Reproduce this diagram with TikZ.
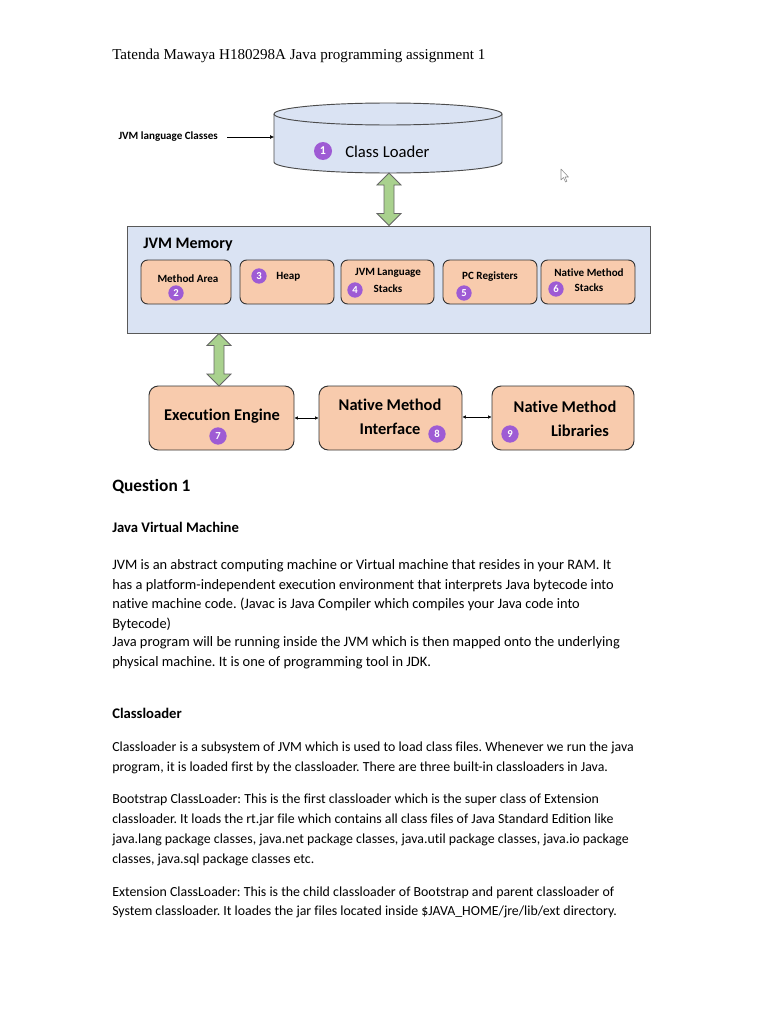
\documentclass[tikz,border=0pt]{standalone}
\usepackage{fontspec}
\setmainfont{Carlito}[Ligatures=NoCommon]
\newfontfamily\headfont{Liberation Serif}
\usepackage{tikz}
\usetikzlibrary{arrows.meta}
\usetikzlibrary{fit}
\usetikzlibrary{calc}

\definecolor{memblue}{HTML}{DAE3F3}
\definecolor{slotpeach}{HTML}{F8CBAD}
\definecolor{arrowgreen}{HTML}{A9D18E}
\definecolor{numpurple}{HTML}{9E5BD4}

\tikzset{
  membox/.style={draw=black!65, fill=memblue, line width=0.7pt, inner sep=0pt},
  slot/.style={draw=black!80, fill=slotpeach, rounded corners=5pt, line width=0.7pt, inner sep=0pt},
  numdot/.style={circle, fill=numpurple, text=white, inner sep=0pt, minimum size=11.5pt, font=\bfseries\fontsize{8}{8}\selectfont},
  slotlabel/.style={font=\bfseries\fontsize{8.3}{9}\selectfont, inner sep=0pt},
  biglabel/.style={font=\bfseries\fontsize{12.3}{14}\selectfont, inner sep=0pt},
  fatarrow/.style={draw=black!60, fill=arrowgreen, line width=0.6pt, line join=miter},
  thinarrow/.style={{Latex[length=2.5pt,width=2.5pt]}-{Latex[length=2.5pt,width=2.5pt]}, line width=0.4pt},
  bodyline/.style={anchor=base west, inner sep=0pt, font=\fontsize{10.8}{13}\selectfont},
  smallline/.style={anchor=base west, inner sep=0pt, font=\fontsize{10.4}{13}\selectfont},
  heading/.style={anchor=base west, inner sep=0pt, font=\bfseries\fontsize{11}{13}\selectfont}
}

% green double arrow from #1 (top) to #2 (bottom)
\newcommand{\greenarrow}[2]{%
  \draw[fatarrow] let \p1=(#1), \p2=(#2) in
    (\x1,\y1) -- (\x1+9pt,\y1-9pt) -- (\x1+3.75pt,\y1-9pt) -- (\x1+3.75pt,\y2+9pt)
    -- (\x1+9pt,\y2+9pt) -- (\x1,\y2) -- (\x1-9pt,\y2+9pt) -- (\x1-3.75pt,\y2+9pt)
    -- (\x1-3.75pt,\y1-9pt) -- (\x1-9pt,\y1-9pt) -- cycle;}

\frenchspacing
\begin{document}
\begin{tikzpicture}[x=0.75pt, y=-0.75pt]
    \useasboundingbox[fill=white] (0,0) rectangle (768,1024);

    % page header
    \node[anchor=base west, inner sep=0pt, font=\headfont\fontsize{11.3}{14}\selectfont] (header) at (112,60) {Tatenda Mawaya H180298A Java programming assignment 1};

    % class loader cylinder
    \draw[draw=black!70, fill=memblue, line width=0.7pt]
        (274,114) -- (274,162) arc[start angle=180, end angle=0, x radius=114, y radius=11]
        -- (502,114) arc[start angle=0, end angle=-180, x radius=114, y radius=11] -- cycle;
    \draw[draw=black!70, line width=0.7pt] (274,114) arc[start angle=180, end angle=0, x radius=114, y radius=11];
    \coordinate (loaderleft) at (274,137);
    \coordinate (loaderbot) at (389,173);
    \node[numdot, minimum size=13.5pt, font=\bfseries\fontsize{9}{9}\selectfont] (num1) at (323,151) {1};
    \node[anchor=west, inner sep=0pt, font=\fontsize{12.5}{14}\selectfont] (loader) at (345,152) {Class Loader};

    \node[anchor=east, inner sep=0pt, font=\bfseries\fontsize{8.3}{9}\selectfont] (langcls) at (218,137) {JVM language Classes};
    \draw[-{Latex[length=3pt,width=3pt]}, line width=0.4pt, shorten <=7pt] (langcls.east) -- (loaderleft);

    % jvm memory
    \node[membox, fit={(127,226) (650,333)}] (memory) {};
    \node[anchor=west, inner sep=0pt, font=\bfseries\fontsize{12}{14}\selectfont] (memtitle) at (143,245) {JVM Memory};

    \node[slot, fit={(141,260) (231,304)}] (area) {};
    \node[slotlabel] (arealbl) at (188,279) {Method Area};
    \node[numdot] (num2) at (176,293) {2};

    \node[slot, fit={(240,260) (334,304)}] (heap) {};
    \node[numdot] (num3) at (259,276) {3};
    \node[slotlabel, anchor=west] (heaplbl) at (276,277) {Heap};

    \node[slot, fit={(341,260) (434,304)}] (stacks) {};
    \node[slotlabel] (stackslbl) at (388,273) {JVM Language};
    \node[numdot] (num4) at (355,290) {4};
    \node[slotlabel] (stackslbl2) at (388,289) {Stacks};

    \node[slot, fit={(443,260) (537,304)}] (pcreg) {};
    \node[slotlabel] (pcreglbl) at (490,277) {PC Registers};
    \node[numdot] (num5) at (464,293) {5};

    \node[slot, fit={(541,260) (635,304)}] (natstacks) {};
    \node[slotlabel] (natstackslbl) at (589,273) {Native Method};
    \node[numdot] (num6) at (556,289) {6};
    \node[slotlabel] (natstackslbl2) at (589,288) {Stacks};

    % engine row
    \node[slot, rounded corners=7pt, fit={(149,386) (294,450)}] (engine) {};
    \node[biglabel] (enginelbl) at (222,416) {Execution Engine};
    \node[numdot, minimum size=13pt] (num7) at (218,436) {7};

    \node[slot, rounded corners=7pt, fit={(319,386) (462,450)}] (iface) {};
    \node[biglabel] (ifacelbl) at (390,405) {Native Method};
    \node[biglabel] (ifacelbl2) at (390,429) {Interface};
    \node[numdot, minimum size=13pt] (num8) at (437,434) {8};

    \node[slot, rounded corners=7pt, fit={(492,386) (634,450)}] (libs) {};
    \node[biglabel] (libslbl) at (565,407) {Native Method};
    \node[biglabel] (libslbl2) at (580,431) {Libraries};
    \node[numdot, minimum size=13pt] (num9) at (510,434) {9};

    % connectors
    \greenarrow{loaderbot}{memory.north -| loaderbot}
    \coordinate (enginetop) at (219,386);
    \greenarrow{memory.south -| enginetop}{enginetop}
    \draw[thinarrow] (engine.east |- 0,418) -- (iface.west |- 0,418);
    \draw[thinarrow] (iface.east |- 0,417) -- (libs.west |- 0,417);

    % mouse pointer
    \draw[black!45, fill=white, line width=0.4pt, line join=round] (561,169) -- (561,180) -- (563.5,177.5) -- (565.5,182) -- (567,181.3) -- (565,177) -- (568.5,177) -- cycle;

    % text below the diagram
    \node[heading, font=\bfseries\fontsize{13}{15}\selectfont] (question) at (112,491) {Question 1};
    \node[heading] (jvmhead) at (112,532) {Java Virtual Machine};
    \node[bodyline] (jvm1) at (112,569) {JVM is an abstract computing machine or Virtual machine that resides in your RAM. It};
    \node[bodyline] (jvm2) at (112,589) {has a platform-independent execution environment that interprets Java bytecode into};
    \node[bodyline] (jvm3) at (112,608) {native machine code. (Javac is Java Compiler which compiles your Java code into};
    \node[bodyline] (jvm4) at (112,628) {Bytecode)};
    \node[bodyline] (jvm5) at (112,646) {Java program will be running inside the JVM which is then mapped onto the underlying};
    \node[bodyline] (jvm6) at (112,666) {physical machine. It is one of programming tool in JDK.};

    \node[heading] (clhead) at (112,718) {Classloader};
    \node[smallline] (cl1) at (112,751) {Classloader is a subsystem of JVM which is used to load class files. Whenever we run the java};
    \node[smallline] (cl2) at (112,771) {program, it is loaded first by the classloader. There are three built-in classloaders in Java.};
    \node[smallline] (boot1) at (112,803) {Bootstrap ClassLoader: This is the first classloader which is the super class of Extension};
    \node[smallline] (boot2) at (112,823) {classloader. It loads the rt.jar file which contains all class files of Java Standard Edition like};
    \node[smallline] (boot3) at (112,843) {java.lang package classes, java.net package classes, java.util package classes, java.io package};
    \node[smallline] (boot4) at (112,863) {classes, java.sql package classes etc.};
    \node[smallline] (ext1) at (112,896) {Extension ClassLoader: This is the child classloader of Bootstrap and parent classloader of};
    \node[smallline] (ext2) at (112,915) {System classloader. It loades the jar files located inside \$JAVA\_HOME/jre/lib/ext directory.};
\end{tikzpicture}
\end{document}
